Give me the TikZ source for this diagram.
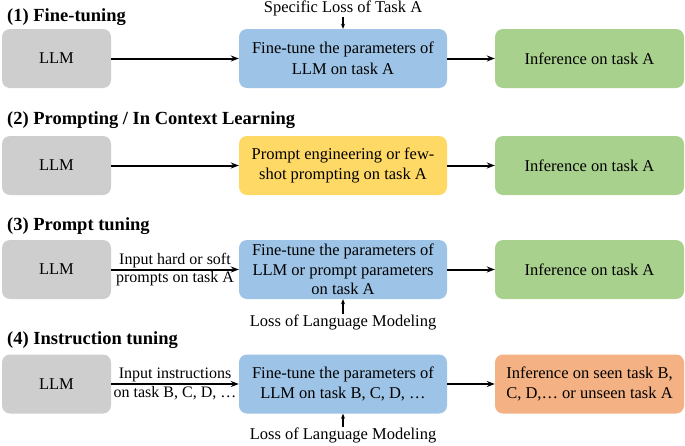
\documentclass[tikz,border=0pt]{standalone}
\usepackage{fontspec}
\setmainfont{Liberation Serif}
\usetikzlibrary{arrows.meta,positioning}
\definecolor{llmGray}{RGB}{206,206,206}
\definecolor{tuneBlue}{RGB}{157,195,230}
\definecolor{promptYellow}{RGB}{255,217,102}
\definecolor{inferGreen}{RGB}{169,209,142}
\definecolor{inferOrange}{RGB}{244,177,131}
\tikzset{
	box/.style={rounded corners=8pt, minimum height=59pt, inner sep=0pt, align=center, font=\fontsize{16.5}{20.5}\selectfont},
	llmBox/.style={box, fill=llmGray, minimum width=109pt},
	tuneBox/.style={box, minimum width=208pt},
	inferBox/.style={box, minimum width=189pt},
	caseTitle/.style={anchor=west, inner sep=0pt, font=\fontsize{18.5}{21}\selectfont\bfseries},
	lossText/.style={inner sep=0pt, font=\fontsize{16.5}{19}\selectfont},
	flowArrow/.style={-{Stealth[length=8pt,width=6pt]}, line width=2pt},
	lossArrow/.style={-{Stealth[length=5pt,width=4pt]}, line width=1.2pt},
	edgeText/.style={inner sep=1pt, font=\fontsize{16}{18}\selectfont},
}
\begin{document}
\begin{tikzpicture}[x=1pt,y=-1pt]
	\useasboundingbox (0,0) rectangle (685,445);
	% (1) Fine-tuning
	\node[caseTitle] (t1) at (7,17) {(1) Fine-tuning};
	\node[llmBox] (llm1) at (56.5,58.5) {LLM};
	\node[tuneBox, fill=tuneBlue] (tune1) at (343,58.5) {Fine-tune the parameters of\\ LLM on task A};
	\node[inferBox, fill=inferGreen] (infer1) at (589.5,58.5) {Inference on task A};
	\node[lossText, anchor=north] (loss1) at (343,1) {Specific Loss of Task A};
	\draw[flowArrow] (llm1) -- (tune1);
	\draw[flowArrow] (tune1) -- (infer1);
	\draw[lossArrow] (loss1.south) -- (tune1.north);
	% (2) Prompting / In Context Learning
	\node[caseTitle] (t2) at (7,120) {(2) Prompting / In Context Learning};
	\node[llmBox] (llm2) at (56.5,165.5) {LLM};
	\node[tuneBox, fill=promptYellow] (tune2) at (343,165.5) {Prompt engineering or few-\\ shot prompting on task A};
	\node[inferBox, fill=inferGreen] (infer2) at (589.5,165.5) {Inference on task A};
	\draw[flowArrow] (llm2) -- (tune2);
	\draw[flowArrow] (tune2) -- (infer2);
	% (3) Prompt tuning
	\node[caseTitle] (t3) at (7,226) {(3) Prompt tuning};
	\node[llmBox] (llm3) at (56.5,269.5) {LLM};
	\node[tuneBox, fill=tuneBlue, font=\fontsize{16.5}{19.5}\selectfont] (tune3) at (343,269.5) {Fine-tune the parameters of\\ LLM or prompt parameters\\ on task A};
	\node[inferBox, fill=inferGreen] (infer3) at (589.5,269.5) {Inference on task A};
	\node[lossText] (loss3) at (343,322) {Loss of Language Modeling};
	\draw[flowArrow] (llm3) -- (tune3)
		node[edgeText, midway, above] {Input hard or soft}
		node[edgeText, midway, below] {prompts on task A};
	\draw[flowArrow] (tune3) -- (infer3);
	\draw[lossArrow] (loss3.north) -- (tune3.south);
	% (4) Instruction tuning
	\node[caseTitle] (t4) at (7,340) {(4) Instruction tuning};
	\node[llmBox] (llm4) at (56.5,384) {LLM};
	\node[tuneBox, fill=tuneBlue] (tune4) at (343,384) {Fine-tune the parameters of\\ LLM on task B, C, D, \dots};
	\node[inferBox, fill=inferOrange] (infer4) at (589.5,384) {Inference on seen task B,\\ C, D,\dots\ or unseen task A};
	\node[lossText] (loss4) at (343,435) {Loss of Language Modeling};
	\draw[flowArrow] (llm4) -- (tune4)
		node[edgeText, midway, above] {Input instructions}
		node[edgeText, midway, below] {on task B, C, D, \dots};
	\draw[flowArrow] (tune4) -- (infer4);
	\draw[lossArrow] (loss4.north) -- (tune4.south);
\end{tikzpicture}
\end{document}
